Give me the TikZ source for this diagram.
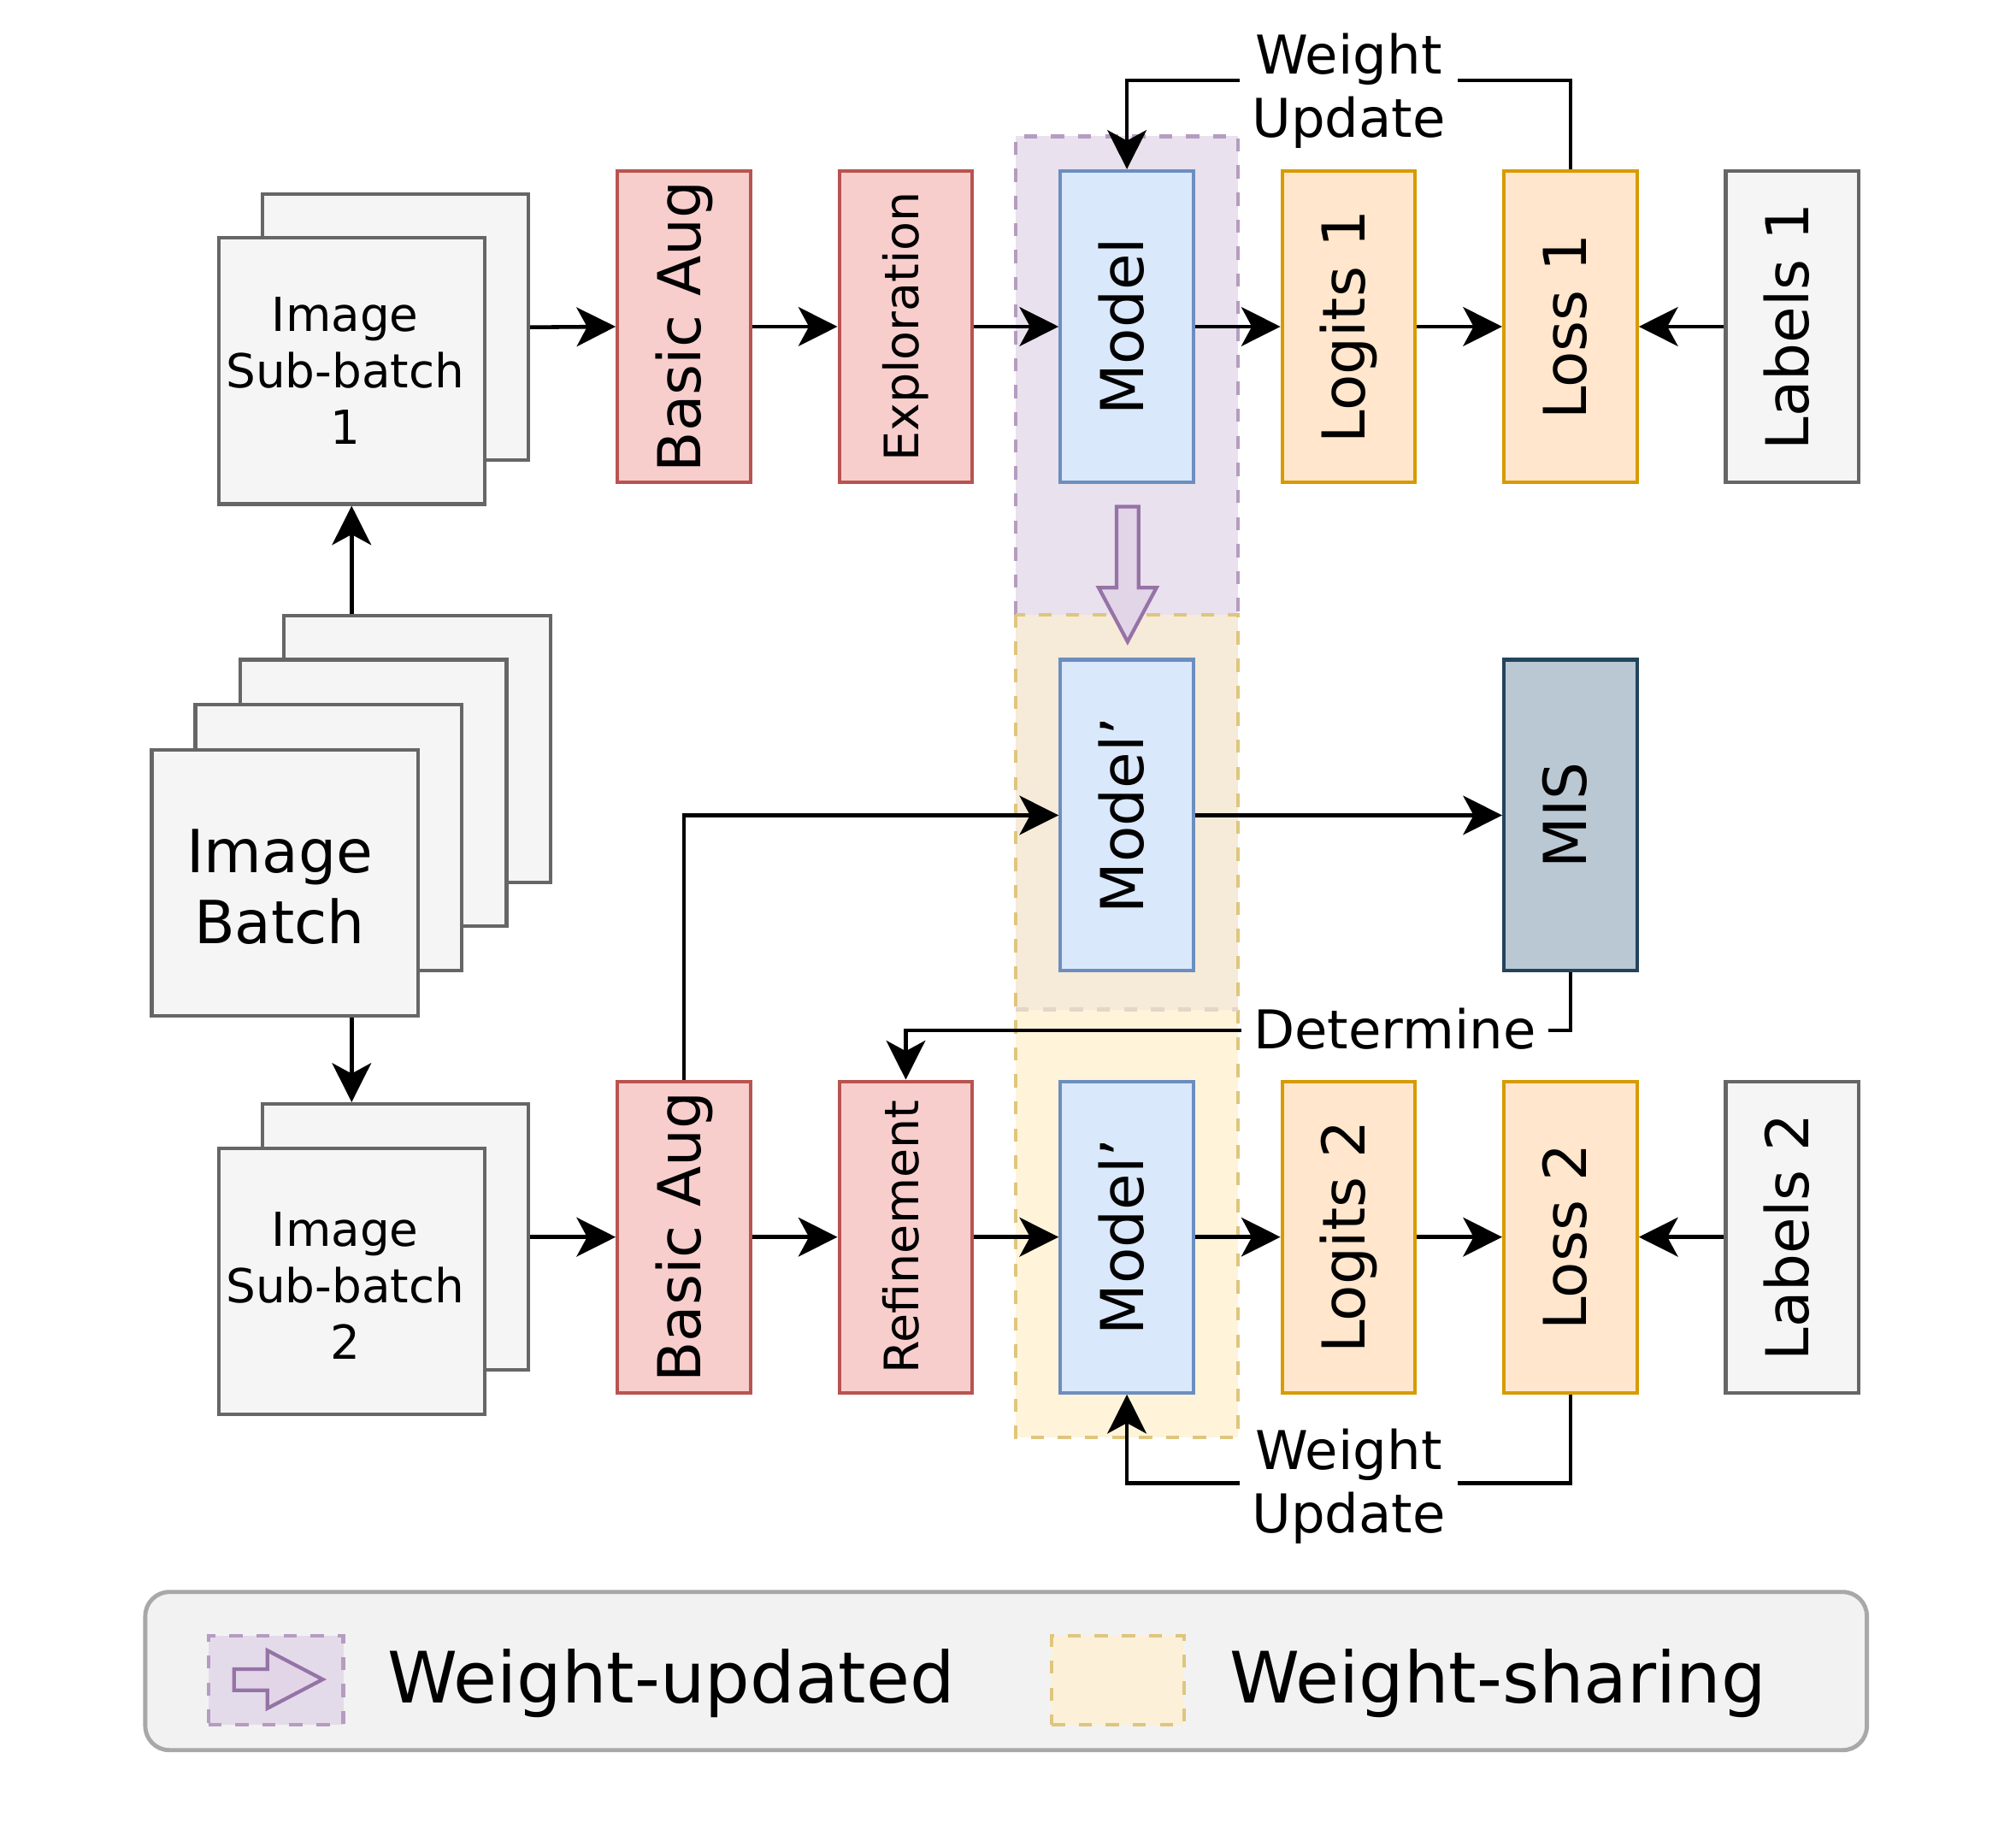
\documentclass[tikz,border=0pt]{standalone}
\usepackage{fontspec}
\setmainfont{DejaVu Sans}
\usetikzlibrary{arrows.meta,calc}
\newcommand\fsz[2]{\fontsize{#1pt}{#2pt}\selectfont}
\newcommand\vtxt[1]{\rotatebox{90}{\rule[-0.2em]{0pt}{0.92em}#1}}
\def\pxu{0.015038cm}
\definecolor{gfill}{HTML}{F5F5F5}
\definecolor{gdraw}{HTML}{666666}
\definecolor{rfill}{HTML}{F8CECC}
\definecolor{rdraw}{HTML}{B85450}
\definecolor{bfill}{HTML}{DAE8FC}
\definecolor{bdraw}{HTML}{6C8EBF}
\definecolor{ofill}{HTML}{FFE6CC}
\definecolor{odraw}{HTML}{D79B00}
\definecolor{mfill}{HTML}{BAC8D3}
\definecolor{mdraw}{HTML}{23445D}
\definecolor{purf}{HTML}{E9E1EE}
\definecolor{purd}{HTML}{B59CC0}
\definecolor{yelf}{HTML}{FFF4D9}
\definecolor{yeld}{HTML}{DEC67E}
\definecolor{midf}{HTML}{F6EAD8}
\definecolor{midd}{HTML}{E4D6C8}
\definecolor{harrd}{HTML}{9673A6}
\definecolor{harrf}{HTML}{E1D5E7}
\definecolor{legf}{HTML}{F2F2F2}
\definecolor{legd}{HTML}{A8A8A8}
\definecolor{legpf}{HTML}{E4DBEA}
\definecolor{legyf}{HTML}{FCF1D8}
\begin{document}
\begin{tikzpicture}[x=\pxu, y=-\pxu,
  box/.style={draw, line width=1.2pt, minimum width=103.5*\pxu, minimum height=242*\pxu, inner sep=0pt, font=\fsz{19.7}{23.5}},
  redb/.style={box, draw=rdraw, fill=rfill},
  blueb/.style={box, draw=bdraw, fill=bfill},
  orab/.style={box, draw=odraw, fill=ofill},
  grayb/.style={box, draw=gdraw, fill=gfill},
  misb/.style={box, draw=mdraw, fill=mfill},
  sq/.style={draw=gdraw, fill=gfill, line width=1.2pt, minimum width=207*\pxu, minimum height=207*\pxu, inner sep=0pt},
  sqtext/.style={inner sep=0pt, align=center, font=\fsz{15.6}{18.8}},
  arr/.style={draw, line width=1.3pt, -{Stealth[length=13pt, width=13pt, inset=3.5pt]}},
  wl/.style={fill=white, font=\fsz{17.8}{21.2}, align=center, inner xsep=4pt, inner ysep=1pt},
  dsh/.style={line width=1.2pt, dash pattern=on 4.4pt off 4.6pt},
  harr/.style={draw=harrd, fill=harrf, line width=1.2pt, line join=miter},
  legt/.style={anchor=base west, inner sep=0pt, font=\fsz{23.6}{28}}
]
\useasboundingbox (0,0) rectangle (1568,1436);

% regions
\fill[purf] (790,106) rectangle (963,478);
\fill[yelf] (790,478) rectangle (963,1118);
\fill[midf] (790,478) rectangle (963,785);
\draw[purd, dsh] (790,478) -- (790,106) -- (963,106) -- (963,478);
\draw[yeld, dsh] (790,478) rectangle (963,1118);
\draw[midd, dsh] (790,785) -- (963,785);
\draw[harr] (868.5,394) -- (885.5,394) -- (885.5,457) -- (899.5,457) -- (877,499) -- (854.5,457) -- (868.5,457) -- cycle;

% image stacks
\node[sq] (sb1b) at (307.5,254.5) {};
\node[sq] (sb1f) at (273.5,288.5) {};
\node[sqtext] (sb1t) at (268.5,288.5) {Image\\Sub-batch\\1};
\node[sq] (ib4) at (324.5,582.5) {};
\node[sq] (ib3) at (290.5,616.5) {};
\node[sq] (ib2) at (255.5,651.5) {};
\node[sq] (ib1) at (221.5,686.5) {};
\node[sqtext, font=\fsz{19.8}{23.7}] (ibt) at (217.5,689.5) {Image\\Batch};
\node[sq] (sb2b) at (307.5,962) {};
\node[sq] (sb2f) at (273.5,996.5) {};
\node[sqtext] (sb2t) at (268.5,1000) {Image\\Sub-batch\\2};

% row 1
\node[redb] (bas1) at (532,254) {\vtxt{Basic Aug}};
\node[redb, font=\fsz{15.8}{18}] (expl) at (704.5,254) {\vtxt{Exploration}};
\node[blueb] (model1) at (876.5,254) {\vtxt{Model}};
\node[orab] (log1) at (1049,254) {\vtxt{Logits 1}};
\node[orab] (loss1) at (1221.5,254) {\vtxt{Loss 1}};
\node[grayb] (lab1) at (1394,254) {\vtxt{Labels 1}};

% row 2
\node[blueb] (modelp) at (876.5,634) {\vtxt{Model’}};
\node[misb] (mis) at (1221.5,634) {\vtxt{MIS}};

% row 3
\node[redb] (bas2) at (532,962) {\vtxt{Basic Aug}};
\node[redb, font=\fsz{15.8}{18}] (refin) at (704.5,962) {\vtxt{Refinement}};
\node[blueb] (model2) at (876.5,962) {\vtxt{Model’}};
\node[orab] (log2) at (1049,962) {\vtxt{Logits 2}};
\node[orab] (loss2) at (1221.5,962) {\vtxt{Loss 2}};
\node[grayb] (lab2) at (1394,962) {\vtxt{Labels 2}};

% connectors
\draw[arr] (ib4.north -| sb1f.south) -- (sb1f.south);
\draw[arr] (ib1.south -| sb2f.north) -- (sb2b.north -| sb2f.north);
\draw[arr] (sb1b.east) -- (bas1.west);
\draw[arr] (bas1.east) -- (expl.west);
\draw[arr] (expl.east) -- (model1.west);
\draw[arr] (model1.east) -- (log1.west);
\draw[arr] (log1.east) -- (loss1.west);
\draw[arr] (lab1.west) -- (loss1.east);
\draw[arr] (loss1.north) -- ++(0,-69) -| (model1.north);
\node[wl] (wu1) at (1049,70.5) {Weight\\Update};

\draw[arr] (sb2b.east) -- (bas2.west);
\draw[arr] (bas2.east) -- (refin.west);
\draw[arr] (refin.east) -- (model2.west);
\draw[arr] (model2.east) -- (log2.west);
\draw[arr] (log2.east) -- (loss2.west);
\draw[arr] (lab2.west) -- (loss2.east);
\draw[arr] (loss2.south) -- ++(0,69) -| (model2.south);
\node[wl] (wu2) at (1049,1156) {Weight\\Update};

\draw[arr] (bas2.north) |- (modelp.west);
\draw[arr] (modelp.east) -- (mis.west);
\draw[arr] (mis.south) -- ++(0,45) -| (refin.north);
\node[wl] (det) at (1085,800) {Determine};

% legend
\node[draw=legd, fill=legf, line width=1.4pt, rounded corners=8pt, minimum width=1339*\pxu, minimum height=123*\pxu, inner sep=0pt] (legend) at (782.5,1299.5) {};
\node[draw=purd, fill=legpf, dsh, minimum width=105*\pxu, minimum height=69*\pxu, inner sep=0pt] (legp) at (214.5,1306.5) {};
\draw[harr] (182,1298) -- (208,1298) -- (208,1283.5) -- (251,1306) -- (208,1328.5) -- (208,1314.5) -- (182,1314.5) -- cycle;
\node[draw=yeld, fill=legyf, dsh, minimum width=103*\pxu, minimum height=69*\pxu, inner sep=0pt] (legy) at (869.5,1306.5) {};
\node[legt] (legpt) at (301,1324.4) {Weight-updated};
\node[legt] (legyt) at (956,1324.4) {Weight-sharing};
\end{tikzpicture}
\end{document}
